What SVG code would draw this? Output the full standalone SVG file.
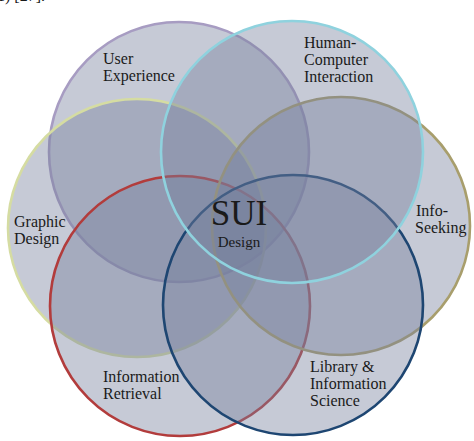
<svg xmlns="http://www.w3.org/2000/svg" width="474" height="441" viewBox="0 0 474 441">
<style>
.c{fill:#78809e;fill-opacity:0.42;stroke-width:2.6}
.t{font-family:"Liberation Serif","Times New Roman",serif;font-size:16px;fill:#1a1a1a}
</style>
<rect width="474" height="441" fill="#ffffff"/>
<text class="t" x="-3" y="1">1) [27].</text>
<g id="user-experience"><circle class="c" cx="179" cy="152" r="130" stroke="#a79cc2"/></g>
<g id="graphic-design"><circle class="c" cx="137" cy="228" r="129" stroke="#d5dca2"/></g>
<g id="information-retrieval"><circle class="c" cx="180" cy="306" r="130" stroke="#b23c3c"/></g>
<g id="info-seeking"><circle class="c" cx="341" cy="226" r="129" stroke="#a89e6c"/></g>
<g id="library-information-science"><circle class="c" cx="293" cy="305" r="130" stroke="#1e4672"/></g>
<g id="human-computer-interaction"><circle class="c" cx="292" cy="152" r="131" stroke="#8fd2de"/></g>
<g id="labels">
<text class="t" x="103" y="64">User</text>
<text class="t" x="103" y="81">Experience</text>
<text class="t" x="304" y="48">Human-</text>
<text class="t" x="304" y="65">Computer</text>
<text class="t" x="304" y="82">Interaction</text>
<text class="t" x="416" y="216">Info-</text>
<text class="t" x="415" y="233">Seeking</text>
<text class="t" x="14" y="227">Graphic</text>
<text class="t" x="14" y="244">Design</text>
<text class="t" x="103" y="382">Information</text>
<text class="t" x="103" y="399">Retrieval</text>
<text class="t" x="310" y="372">Library &amp;</text>
<text class="t" x="310" y="389">Information</text>
<text class="t" x="310" y="406">Science</text>
</g>
<g id="sui-design">
<text class="t" x="239" y="225" text-anchor="middle" style="font-size:35px">SUI</text>
<text class="t" x="239" y="247" text-anchor="middle" style="font-size:15px">Design</text>
</g>
<g id="connectors"></g>
</svg>
